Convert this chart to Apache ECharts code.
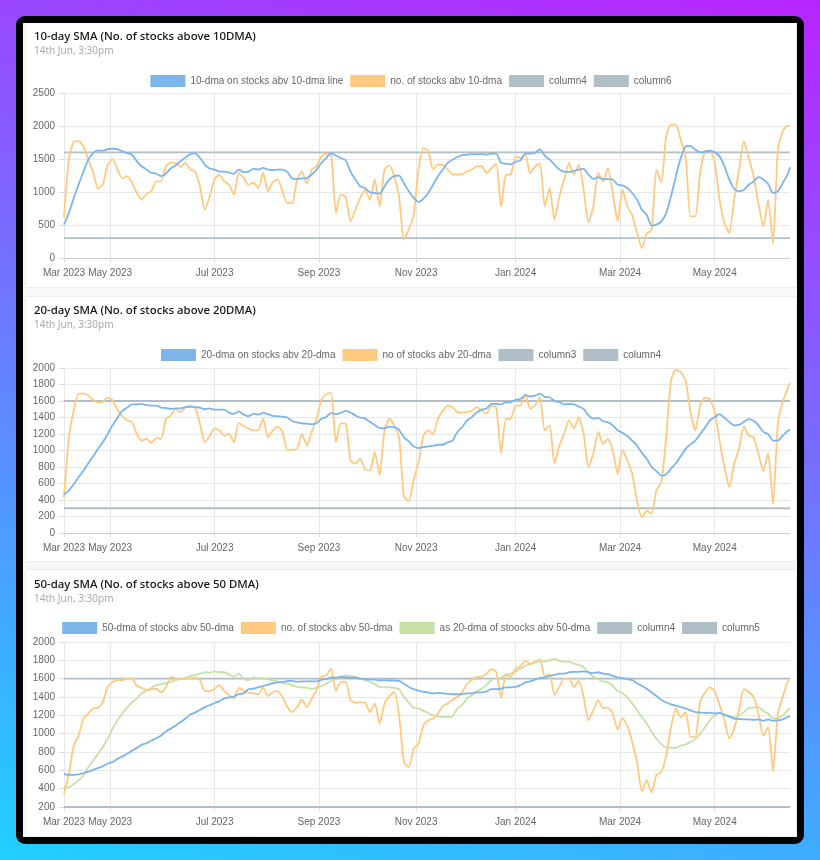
<!DOCTYPE html>
<html>
<head>
<meta charset="utf-8">
<title>SMA breadth</title>
<script src="https://cdn.jsdelivr.net/npm/echarts@6/dist/echarts.min.js"></script>
<style>
html,body{margin:0;padding:0;width:820px;height:860px;overflow:hidden}
body{background:linear-gradient(195deg,#b824ff,#1fd0ff);position:relative}
#frame{position:absolute;left:16px;top:16px;width:788px;height:828px;background:#000;border-radius:9px}
#inner{position:absolute;left:23px;top:23px;width:774px;height:814px;background:#f8f8f8}
.card{position:absolute;left:26px;width:770px;background:#fff;box-shadow:0 0 2px rgba(0,0,0,.14)}
#card1{top:23px;height:264px}
#card2{top:297px;height:264px}
#card3{top:570px;height:266px}
</style>
</head>
<body>
<div id="frame"></div>
<div id="inner"></div>
<div class="card" id="card1"></div>
<div class="card" id="card2"></div>
<div class="card" id="card3"></div>
<script>
// x axis: one slot per trading day, values below are read every 2nd day
var dayCount = 300;
var tickDays = [0, 19, 62, 105, 145, 186, 229, 268];
var tickLabels = ['Mar 2023', 'May 2023', 'Jul 2023', 'Sep 2023', 'Nov 2023', 'Jan 2024', 'Mar 2024', 'May 2024'];

var sma10Blue = [505,680,910,1110,1310,1490,1590,1630,1625,1650,1655,1650,1615,1590,1565,1465,1390,1340,1290,1280,1240,1280,1360,1405,1465,1525,1575,1585,1515,1415,1355,1340,1310,1310,1295,1275,1340,1300,1310,1350,1340,1365,1340,1330,1340,1340,1300,1205,1195,1205,1210,1265,1340,1440,1515,1590,1550,1515,1480,1310,1190,1085,1060,995,985,975,1085,1190,1240,1250,1135,1010,910,850,895,985,1110,1240,1340,1440,1490,1530,1560,1565,1575,1570,1575,1565,1580,1580,1440,1430,1420,1455,1480,1580,1580,1595,1645,1550,1490,1415,1340,1310,1305,1320,1340,1350,1265,1195,1225,1195,1195,1190,1110,1100,1060,985,885,730,655,490,505,555,680,935,1240,1515,1690,1700,1640,1600,1610,1625,1600,1540,1390,1190,1045,1010,1035,1110,1160,1225,1190,1120,985,1010,1135,1265,1375];
var sma10Orange = [620,1500,1760,1770,1690,1490,1300,1050,1110,1410,1500,1340,1210,1240,1140,985,885,975,1010,1160,1160,1390,1450,1440,1380,1440,1340,1310,1080,730,930,1190,1260,1160,1110,960,1290,1210,1110,1140,1060,1290,1010,1150,1190,1010,830,830,1190,1310,1125,1340,1390,1540,1580,1570,680,960,930,555,730,910,1035,880,1190,780,1340,1400,1240,930,280,430,650,1340,1670,1620,1340,1415,1410,1340,1265,1265,1265,1310,1340,1390,1390,1290,1360,1430,780,1260,1265,1540,1515,1565,1280,1390,1430,780,1060,580,930,1195,1440,1265,1410,1035,540,780,1290,1160,1360,985,555,1035,780,650,380,150,370,430,1340,1145,1840,2020,2020,1790,1540,630,630,1290,1615,1630,1440,880,530,380,880,1340,1770,1515,1240,830,480,880,220,1640,1920,2000,2000];
var sma10Column4 = [1600, 1600];
var sma10Column6 = [300, 300];

var sma20Blue = [465,515,590,675,755,845,930,1020,1100,1200,1305,1395,1480,1520,1560,1560,1565,1550,1545,1545,1520,1515,1505,1510,1510,1525,1530,1525,1520,1500,1510,1495,1495,1495,1460,1445,1475,1435,1415,1445,1435,1455,1440,1420,1415,1410,1400,1355,1340,1330,1325,1320,1330,1385,1405,1455,1440,1455,1480,1460,1425,1400,1390,1345,1310,1270,1270,1290,1285,1250,1160,1110,1050,1030,1040,1050,1055,1070,1070,1100,1120,1225,1285,1365,1405,1460,1495,1510,1565,1565,1560,1585,1585,1615,1625,1675,1655,1665,1690,1650,1645,1600,1585,1560,1565,1560,1535,1505,1425,1385,1395,1355,1340,1305,1245,1215,1175,1120,1060,970,900,800,750,695,710,780,845,930,1020,1075,1120,1200,1275,1365,1405,1440,1395,1345,1305,1310,1345,1380,1360,1305,1225,1200,1120,1120,1180,1235,1255];
var sma20Orange = [430,1160,1485,1690,1690,1670,1615,1580,1590,1640,1610,1495,1415,1365,1345,1200,1120,1140,1090,1150,1140,1385,1425,1505,1465,1525,1545,1520,1325,1100,1175,1265,1245,1180,1200,1100,1335,1295,1265,1245,1245,1385,1160,1245,1290,1225,1000,1010,1020,1200,1060,1225,1385,1610,1680,1700,1100,1330,1325,880,840,900,770,760,980,700,1245,1385,1305,1160,440,385,640,860,1180,1245,1200,1385,1480,1545,1525,1465,1460,1465,1480,1525,1485,1445,1545,1525,970,1385,1385,1545,1545,1680,1505,1545,1650,1245,1305,840,1060,1200,1365,1265,1405,1200,800,960,1225,1080,1140,1000,715,1010,880,715,390,190,270,230,515,615,1160,1850,1980,1950,1850,1465,1245,1545,1640,1620,1465,1120,800,555,840,1020,1295,1180,1160,960,750,970,345,1325,1590,1750,1820];
var sma20Column3 = [1600, 1600];
var sma20Column4 = [300, 300];

var sma50Blue = [560,550,550,555,570,585,605,625,645,675,690,725,750,780,815,845,880,895,925,950,980,1025,1055,1090,1125,1165,1210,1230,1260,1290,1310,1335,1355,1385,1395,1405,1430,1440,1485,1490,1505,1520,1535,1550,1560,1565,1575,1575,1565,1570,1570,1570,1570,1590,1595,1610,1610,1620,1615,1610,1610,1600,1595,1590,1590,1580,1585,1580,1580,1575,1545,1510,1485,1470,1455,1450,1440,1445,1440,1435,1430,1430,1430,1440,1440,1450,1450,1460,1485,1485,1490,1505,1505,1510,1530,1560,1570,1590,1605,1615,1630,1640,1655,1655,1670,1675,1675,1680,1670,1660,1670,1655,1650,1630,1615,1605,1595,1585,1550,1520,1490,1450,1410,1370,1340,1320,1305,1290,1275,1255,1235,1230,1225,1230,1220,1225,1205,1185,1165,1160,1155,1155,1150,1155,1140,1155,1140,1145,1155,1180,1195];
var sma50Orange = [340,560,870,980,1165,1220,1275,1280,1345,1510,1560,1585,1585,1600,1600,1520,1500,1475,1485,1490,1450,1510,1620,1600,1595,1610,1600,1610,1585,1465,1465,1490,1530,1465,1420,1385,1500,1470,1445,1440,1430,1505,1410,1455,1465,1400,1290,1235,1290,1370,1290,1380,1475,1620,1640,1710,1465,1565,1565,1365,1340,1345,1340,1235,1330,1110,1330,1410,1455,1200,690,635,835,890,1090,1145,1165,1220,1300,1330,1370,1400,1455,1545,1585,1620,1620,1655,1705,1675,1390,1640,1620,1710,1735,1795,1760,1785,1810,1620,1650,1420,1510,1600,1600,1510,1575,1400,1145,1255,1365,1280,1285,1220,1045,1170,1090,910,690,370,490,360,550,580,760,1070,1275,1180,1235,965,965,1345,1450,1505,1465,1310,1145,945,1055,1255,1485,1455,1400,1220,980,1070,590,1220,1400,1565,1590];
var sma50Green = [415,415,450,490,545,635,705,780,855,945,1055,1145,1220,1285,1340,1385,1440,1465,1500,1530,1540,1550,1565,1585,1595,1600,1630,1640,1655,1670,1665,1680,1670,1670,1645,1620,1655,1600,1585,1615,1600,1605,1590,1585,1570,1555,1545,1530,1510,1505,1500,1490,1500,1520,1545,1575,1600,1615,1635,1630,1620,1600,1585,1565,1540,1510,1505,1505,1500,1485,1400,1340,1280,1275,1250,1225,1200,1190,1180,1180,1190,1275,1315,1385,1420,1465,1490,1530,1585,1600,1610,1645,1655,1680,1710,1740,1760,1775,1790,1790,1800,1815,1795,1785,1785,1765,1750,1725,1670,1620,1595,1570,1560,1520,1465,1440,1395,1330,1255,1180,1110,1020,945,885,850,845,845,870,880,910,940,1000,1070,1145,1200,1230,1210,1195,1175,1200,1235,1280,1285,1290,1245,1220,1165,1170,1200,1255,1280];
var sma50Column4 = [1600, 1600];
var sma50Column5 = [200, 200];

var BLUE = '#7cb5ec', ORANGE = '#ffc97f', GREEN = '#c5e1a5', GREY = '#b0bec5';

var categories = [];
for (var d = 0; d < dayCount; d++) {
    var pos = tickDays.indexOf(d);
    categories.push(pos >= 0 ? tickLabels[pos] : 'd' + d);
}
var isTick = function (index) {
    return tickDays.indexOf(index) >= 0;
};
var lastDay = dayCount - 1;

var toPoints = function (values) {
    return values.map(function (v, i) {
        return [Math.min(i * 2, lastDay), v];
    });
};
var toEnds = function (values) {
    return [[0, values[0]], [lastDay, values[1]]];
};

var lineSeries = function (name, color, data, z, width) {
    return {
        name: name,
        type: 'line',
        data: data,
        z: z,
        symbol: 'none',
        smooth: 0.2,
        silent: true,
        lineStyle: { color: color, width: width },
        itemStyle: { color: color }
    };
};

var drawCard = function (id, cfg) {
    var myChart = echarts.init(document.getElementById(id), null, { renderer: 'canvas' });
    myChart.setOption({
        animation: false,
        title: {
            text: cfg.title,
            subtext: '14th Jun, 3:30pm',
            left: 8,
            top: cfg.titleTop,
            itemGap: 4,
            padding: 0,
            textStyle: { fontFamily: 'Noto Sans', fontSize: 11.4, fontWeight: 500, color: '#111' },
            subtextStyle: { fontFamily: 'Noto Sans', fontSize: 10, color: '#aaa' }
        },
        legend: {
            top: 47,
            left: 'center',
            itemWidth: 35,
            itemHeight: 12,
            itemGap: 7,
            icon: 'rect',
            selectedMode: false,
            textStyle: { fontFamily: 'Liberation Sans', fontSize: 10, color: '#666' },
            data: cfg.series.map(function (s) { return s.name; })
        },
        grid: { left: 38, right: 6, top: cfg.gridTop, height: 165 },
        xAxis: {
            type: 'category',
            boundaryGap: false,
            data: categories,
            axisLine: { lineStyle: { color: '#ccc' } },
            axisTick: { show: true, length: 4, interval: isTick, lineStyle: { color: '#ddd' } },
            axisLabel: { interval: isTick, hideOverlap: false, margin: 10, fontFamily: 'Liberation Sans', fontSize: 10, color: '#666' },
            splitLine: { show: true, interval: isTick, lineStyle: { color: '#e6e6e6' } }
        },
        yAxis: {
            type: 'value',
            min: cfg.min,
            max: cfg.max,
            interval: cfg.interval,
            axisLine: { show: false },
            axisTick: { show: true, length: 5, lineStyle: { color: '#ddd' } },
            axisLabel: {
                margin: 9,
                fontFamily: 'Liberation Sans',
                fontSize: 10,
                color: '#666',
                formatter: function (v) { return String(v); }
            },
            splitLine: { lineStyle: { color: '#e8e8e8' } }
        },
        series: cfg.series
    });
};

drawCard('card1', {
    title: '10-day SMA (No. of stocks above 10DMA)', titleTop: 8, gridTop: 70,
    min: 0, max: 2500, interval: 500,
    series: [
        lineSeries('10-dma on stocks abv 10-dma line', BLUE, toPoints(sma10Blue), 6, 1.8),
        lineSeries('no. of stocks abv 10-dma', ORANGE, toPoints(sma10Orange), 5, 1.8),
        lineSeries('column4', GREY, toEnds(sma10Column4), 3, 1.8),
        lineSeries('column6', GREY, toEnds(sma10Column6), 3, 1.8)
    ]
});
drawCard('card2', {
    title: '20-day SMA (No. of stocks above 20DMA)', titleTop: 8, gridTop: 71,
    min: 0, max: 2000, interval: 200,
    series: [
        lineSeries('20-dma on stocks abv 20-dma', BLUE, toPoints(sma20Blue), 6, 1.8),
        lineSeries('no of stocks abv 20-dma', ORANGE, toPoints(sma20Orange), 5, 1.8),
        lineSeries('column3', GREY, toEnds(sma20Column3), 3, 1.8),
        lineSeries('column4', GREY, toEnds(sma20Column4), 3, 1.8)
    ]
});
drawCard('card3', {
    title: '50-day SMA (No. of stocks above 50 DMA)', titleTop: 9, gridTop: 72,
    min: 200, max: 2000, interval: 200,
    series: [
        lineSeries('50-dma of stocks abv 50-dma', BLUE, toPoints(sma50Blue), 6, 1.8),
        lineSeries('no. of stocks abv 50-dma', ORANGE, toPoints(sma50Orange), 5, 1.8),
        lineSeries('as 20-dma of stoocks abv 50-dma', GREEN, toPoints(sma50Green), 4, 1.8),
        lineSeries('column4', GREY, toEnds(sma50Column4), 3, 1.8),
        lineSeries('column5', GREY, toEnds(sma50Column5), 3, 1.8)
    ]
});
</script>
</body>
</html>
